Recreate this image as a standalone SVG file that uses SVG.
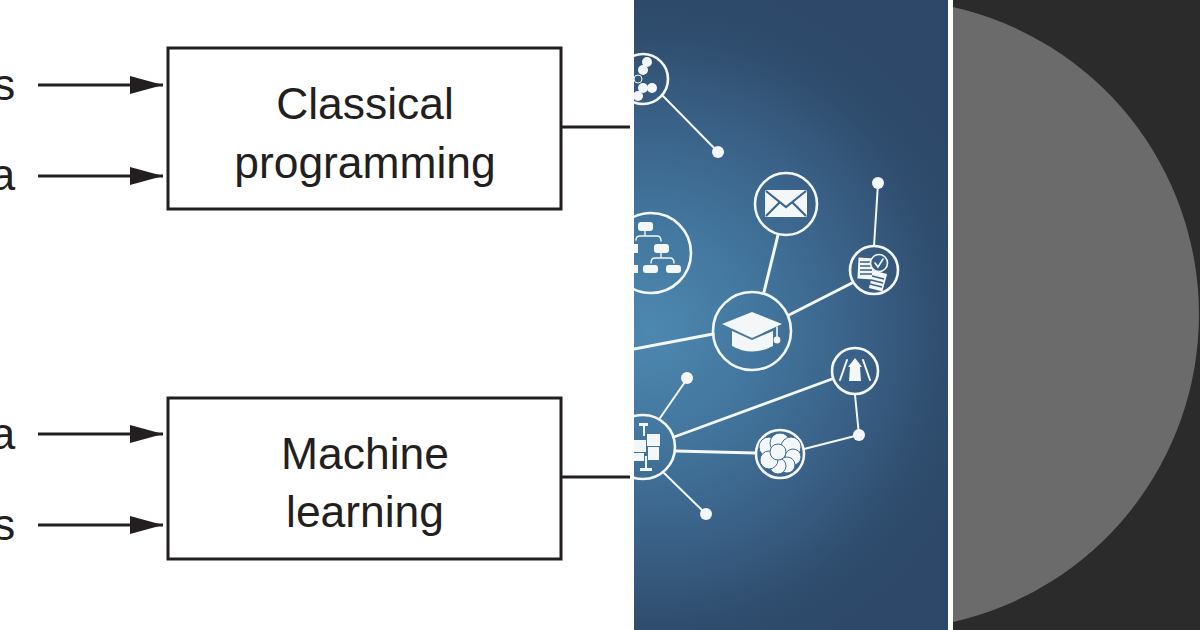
<svg xmlns="http://www.w3.org/2000/svg" width="1200" height="630" viewBox="0 0 1200 630">
<style>
.t{font-family:"Liberation Sans",Arial,sans-serif;font-size:44.4px;fill:#231f20}
.c{text-anchor:middle}
.box{fill:#fff;stroke:#231f20;stroke-width:3}
.w{stroke:#231f20;stroke-width:3;fill:none}
.l{stroke:#f4f7f9;fill:none;stroke-width:3;stroke-linecap:round}
.n{stroke:#f4f7f9;fill:none;stroke-width:2.6}
.f{fill:#f4f7f9}
.d{stroke:#3a5f84;stroke-width:1.4;fill:none}
</style>
<defs>
<marker id="ah" markerUnits="userSpaceOnUse" markerWidth="34" markerHeight="20" refX="33" refY="10" orient="auto"><path d="M0 1L33 10L0 19Z" fill="#231f20"/></marker>
<radialGradient id="bg" gradientUnits="userSpaceOnUse" cx="650" cy="330" r="350">
<stop offset="0" stop-color="#4d88b0"/><stop offset=".3" stop-color="#43779f"/><stop offset=".6" stop-color="#3a6187"/><stop offset=".85" stop-color="#2f4d6e"/><stop offset="1" stop-color="#2d4868"/>
</radialGradient>
<clipPath id="p"><rect x="634" y="0" width="314" height="630"/></clipPath>
</defs>
<rect width="1200" height="630" fill="#fff"/>
<g id="background-panels">
<rect x="634" y="0" width="314" height="630" fill="url(#bg)"/>
<rect x="953" y="0" width="247" height="630" fill="#2b2b2b"/>
<path d="M953 7A315.2 315.2 0 0 1 953 622Z" fill="#6b6b6b"/>
</g>
<g id="connectors">
<path class="w" d="M38 85H163" marker-end="url(#ah)"/>
<path class="w" d="M38 176H163" marker-end="url(#ah)"/>
<path class="w" d="M38 434H163" marker-end="url(#ah)"/>
<path class="w" d="M38 525H163" marker-end="url(#ah)"/>
<path class="w" d="M562 127H630"/>
<path class="w" d="M562 477H630"/>
</g>
<g id="label-rules-in"><text class="t" x="-7" y="100">s</text></g>
<g id="label-data-in"><text class="t" x="-9.5" y="190">a</text></g>
<g id="label-data-ml"><text class="t" x="-9.5" y="449">a</text></g>
<g id="label-answers-ml"><text class="t" x="-7" y="540">s</text></g>
<g id="classical-programming">
<rect class="box" x="168" y="48" width="393" height="161"/>
<text class="t c" x="365" y="119">Classical</text>
<text class="t c" x="365" y="178">programming</text>
</g>
<g id="machine-learning">
<rect class="box" x="168" y="398" width="393" height="161"/>
<text class="t c" x="365" y="469">Machine</text>
<text class="t c" x="365" y="527">learning</text>
</g>
<g id="network" clip-path="url(#p)">
<path class="l" style="stroke-width:2" d="M663 96L718 152"/>
<path class="l" d="M634 349L713 334M764 292L778 235M789 315L852 283"/>
<path class="l" style="stroke-width:2" d="M874 246L878 184"/>
<path class="l" style="stroke-width:2.8" d="M674 437L832 379"/>
<path class="l" style="stroke-width:2.8" d="M676 451L755 453"/>
<path class="l" style="stroke-width:2" d="M804 449L859 435M855 395L859 435M660 418L687 379M664 473L706 514"/>
<g id="node-molecule"><circle class="n" cx="643" cy="79" r="25"/>
<g class="f"><circle cx="647" cy="62" r="5"/><circle cx="643" cy="70" r="5"/><circle cx="643" cy="88" r="5"/><circle cx="652" cy="88" r="5"/><circle cx="638" cy="96" r="5"/></g><circle cx="638" cy="79" r="4" fill="none" stroke="#f4f7f9" stroke-width="1"/></g>
<g id="node-tree"><circle class="n" cx="651" cy="253" r="40"/>
<rect class="f" x="638" y="222" width="15" height="9" rx="3"/><rect class="f" x="654" y="244" width="15" height="9" rx="3"/><rect class="f" x="643" y="265" width="15" height="8" rx="3"/><rect class="f" x="666" y="265" width="15" height="8" rx="3"/><rect class="f" x="634" y="244" width="4" height="9"/><rect class="f" x="634" y="265" width="4" height="8"/>
<path class="l" style="stroke-width:1.4" d="M636 240Q636 236 640 236H657Q661 236 661 241M645 231V236M651 263Q651 258 655 258H670Q674 258 674 263M661 253V258"/></g>
<g id="node-mail"><circle class="n" cx="786" cy="204" r="31"/>
<rect class="f" x="765" y="190" width="42" height="27" rx="1.5"/><path d="M766 191L786 207L806 191M766 216L780 202M806 216L792 202" stroke="#3a658c" stroke-width="2.2" fill="none"/></g>
<g id="node-doc"><circle class="n" cx="874" cy="270" r="24"/>
<rect class="f" x="858" y="258" width="16" height="21" transform="rotate(3 866 268)"/><path d="M860 262H872M860 266H872M860 270H872M860 274H872" class="d"/>
<rect class="f" x="871" y="272" width="14" height="18" transform="rotate(15 878 281)"/><path d="M872 276L884 279M871 280L883 283M870 284L882 287" class="d"/>
<circle cx="879" cy="263" r="8.5" fill="#385f84" stroke="#f4f7f9" stroke-width="1.6"/><path d="M875 263L878 267L883 259" class="l" style="stroke-width:1.6"/></g>
<g id="node-cap"><circle class="n" cx="752" cy="331" r="39"/>
<path class="f" d="M732 331V346Q752 357 773 346V331L752 340Z"/><path class="f" d="M722 324L752 312L782 324L752 338Z"/><path class="l" style="stroke-width:1.6" d="M777 327V340"/><circle class="f" cx="777" cy="340" r="3.4"/></g>
<g id="node-road"><circle class="n" cx="855" cy="371" r="23"/>
<path class="f" d="M855 358L862 367H860L861 381H849L850 367H848Z"/><path class="l" style="stroke-width:2" d="M847 360L840 380M863 360L870 380"/></g>
<g id="node-cluster"><circle class="n" cx="780" cy="454" r="24"/>
<g fill="#f4f7f9" stroke="#3f6d94" stroke-width="1"><circle cx="769" cy="447" r="10"/><circle cx="780" cy="443" r="10"/><circle cx="791" cy="447" r="10"/><circle cx="793" cy="457" r="8"/><circle cx="787" cy="465" r="8"/><circle cx="778" cy="466" r="8"/><circle cx="769" cy="460" r="9"/><circle cx="778" cy="452" r="8"/></g></g>
<g id="node-cube"><circle class="n" cx="643" cy="447" r="32"/>
<path class="f" d="M639 423H648V426H645V436H643V426H639ZM640 468H652V471H640ZM645 456H647V468H645Z"/>
<rect x="634" y="440" width="12" height="12" class="f"/><rect x="647" y="434" width="13" height="12" class="f"/><rect x="634" y="453" width="10" height="8" class="f"/><rect x="648" y="447" width="11" height="13" class="f"/></g>
<g class="f" id="dots"><circle cx="718" cy="152" r="6"/><circle cx="878" cy="183" r="6"/><circle cx="687" cy="378" r="6"/><circle cx="859" cy="435" r="6"/><circle cx="706" cy="514" r="6"/></g>
</g>
</svg>
